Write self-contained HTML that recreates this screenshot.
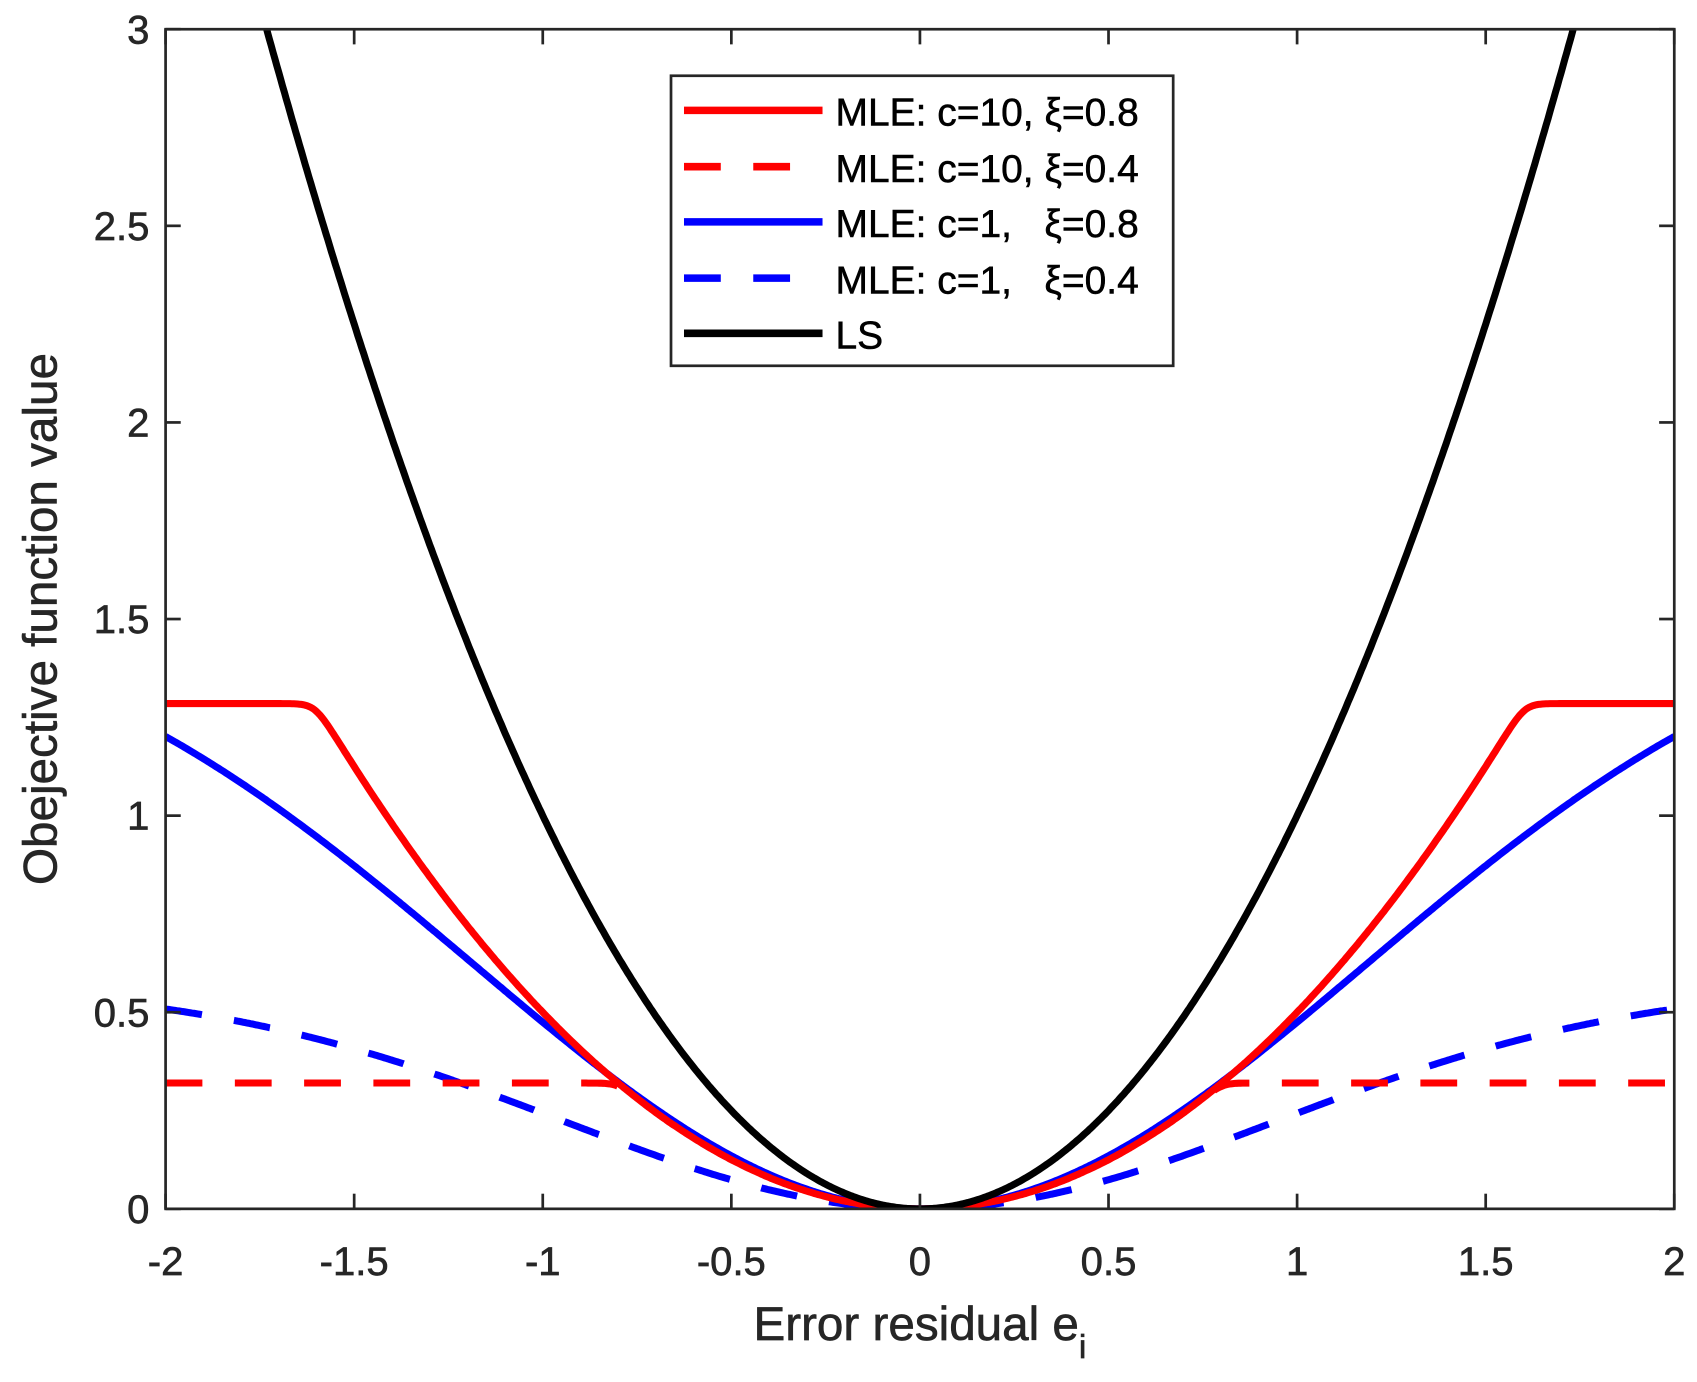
<!DOCTYPE html>
<html><head><meta charset="utf-8"><style>
html,body{margin:0;padding:0;background:#fff;}
svg{display:block;}
text{font-family:"Liberation Sans",Arial,sans-serif;fill:#262626;}
</style></head><body>
<svg id="s" width="1697" height="1382" viewBox="0 0 1568 1277" preserveAspectRatio="none" xmlns="http://www.w3.org/2000/svg">
<rect width="1568" height="1277" fill="#fff"/>
<defs><clipPath id="c"><rect x="153" y="27" width="1394" height="1090"/></clipPath></defs>
<g id="curves" clip-path="url(#c)"></g>
<rect x="153" y="27" width="1394" height="1090" fill="none" stroke="#262626" stroke-width="2.5"/>
<g id="ticks" stroke="#262626" stroke-width="2.5"></g>
<g id="labels" font-size="37" stroke="#262626" stroke-width="0.6"></g>
<text x="850" y="1238" font-size="44" text-anchor="middle" stroke="#262626" stroke-width="0.6">Error residual e<tspan font-size="31" dy="17">i</tspan></text>
<text transform="translate(52,572) rotate(-90)" font-size="44" text-anchor="middle" stroke="#262626" stroke-width="0.6">Obejective function value</text>
<rect x="620" y="70" width="464" height="268" fill="#fff" stroke="#262626" stroke-width="2.5"/>
<g stroke-width="7">
<line x1="632" y1="102" x2="760" y2="102" stroke="#f00"/>
<line x1="632" y1="154" x2="760" y2="154" stroke="#f00" stroke-dasharray="34,30"/>
<line x1="632" y1="205" x2="760" y2="205" stroke="#00f"/>
<line x1="632" y1="257" x2="760" y2="257" stroke="#00f" stroke-dasharray="34,30"/>
<line x1="632" y1="308" x2="760" y2="308" stroke="#000"/>
</g>
<g font-size="36" style="fill:#000" stroke="#000" stroke-width="0.5">
<text x="772" y="116" style="fill:#000">MLE: c=10, ξ=0.8</text>
<text x="772" y="168" style="fill:#000">MLE: c=10, ξ=0.4</text>
<text x="772" y="219" style="fill:#000" xml:space="preserve">MLE: c=1,   ξ=0.8</text>
<text x="772" y="271" style="fill:#000" xml:space="preserve">MLE: c=1,   ξ=0.4</text>
<text x="772" y="322" style="fill:#000">LS</text>
</g>
</svg>
<script>
(function(){
var X=function(x){return 850+x*348.5;},Y=function(y){return 1117-y*363.33;};
var ns="http://www.w3.org/2000/svg";
function el(p,t,a){var e=document.createElementNS(ns,t);for(var k in a)e.setAttribute(k,a[k]);p.appendChild(e);return e;}
function smin(a,b,k){var m=Math.min(a,b);return m-k*Math.log(Math.exp((m-a)/k)+Math.exp((m-b)/k));}
var fs=[
 [function(x){return 0.57*(1-Math.exp(-x*x/1.8));},"#00f","34,30"],
 [function(x){return smin(0.5*x*x,0.32,0.012);},"#f00","34,30"],
 [function(x){return 1.58*(1-Math.exp(-x*x/2.8));},"#00f",null],
 [function(x){return smin(0.5*x*x,1.285,0.025);},"#f00",null],
 [function(x){return x*x;},"#000",null]];
var g=document.getElementById("curves");
fs.forEach(function(f){var d="";for(var i=0;i<=800;i++){var x=-2+4*i/800;var y=Math.min(f[0](x),3.2);d+=(i?"L":"M")+X(x).toFixed(1)+","+Y(y).toFixed(1);}
 var a={d:d,fill:"none",stroke:f[1],"stroke-width":6.5};if(f[2])a["stroke-dasharray"]=f[2];el(g,"path",a);});
var t=document.getElementById("ticks"),l=document.getElementById("labels");
for(var i=0;i<=8;i++){var v=-2+i*0.5,x=X(v);
 el(t,"line",{x1:x,y1:1117,x2:x,y2:1103});el(t,"line",{x1:x,y1:27,x2:x,y2:41});
 var e=el(l,"text",{x:x,y:1178,"text-anchor":"middle"});e.textContent=String(v);}
for(var j=0;j<=6;j++){var v=j*0.5,y=Y(v);
 el(t,"line",{x1:153,y1:y,x2:167,y2:y});el(t,"line",{x1:1547,y1:y,x2:1533,y2:y});
 var e=el(l,"text",{x:138,y:y+13,"text-anchor":"end"});e.textContent=String(v);}
})();
</script>
</body></html>
